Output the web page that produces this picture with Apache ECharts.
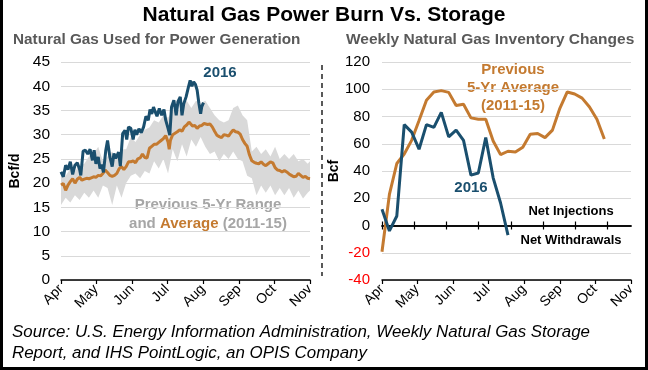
<!DOCTYPE html>
<html><head><meta charset="utf-8">
<script src="https://cdn.jsdelivr.net/npm/echarts@6/dist/echarts.min.js"></script>
<style>html,body{margin:0;padding:0;background:#fff}#c{width:648px;height:370px}</style>
</head><body><div id="c"></div>
<script>
// ---------- data ----------
const monthLabels = ['Apr','May','Jun','Jul','Aug','Sep','Oct','Nov'];
const monthStartDays = [0,30,61,91,122,153,183,214];   // days after Apr 1

// Left: power burn (Bcf/d), x = days after Apr 1
const burn2016Days = [0,2,4,6,8,10,12,14,16,17,19,21,23,25,27,28.5,30,32,33.5,35,36.5,38.5,40,42,44,45.5,47,49.5,51,53,55,56.5,58,60,62,63.5,65,67,69,71,73,75,76.5,78,79.5,81,82.5,84.5,86.5,88.5,90,92,93.5,95,97,99,100.5,102.5,104,105.5,107.5,109.5,111,112.5,114,115.5,117,118.5,120,121,122.5];
const burn2016 = [22.3,21.3,23.7,22.8,24.4,21.8,23.7,24.2,22.8,21.6,26.6,26.8,26.0,27.0,24.7,26.8,24.0,25.4,23.0,23.8,22.2,26.8,28.8,25.4,23.4,26.1,25.1,26.4,23.5,30.2,30.9,29.0,31.6,31.3,29.0,31.0,30.0,31.2,30.4,31.6,33.8,33.0,35.2,34.3,35.7,34.7,33.8,35.4,34.0,35.2,33.0,31.3,29.9,35.7,37.1,34.0,36.8,37.8,34.0,36.4,37.8,39.8,41.2,40.0,40.9,40.4,39.2,36.5,34.3,35.8,36.6];

const burnAvgDays = [0,2,4,6,8,10,12,14,16,18,20,22,24,26,28,30,32,34,36,38,40,42,44,46,48,50,52,54,56,58,60,62,64,66,68,70,72,74,76,78,80,82,84,86,88,90,92,93,94,96,98,100,102,104,106,108,110,111,113,115,117,119,121,123,126,128,130,132,134,136,138,140,142,144,146,148,150,152,154,156,158,160,162,164,166,168,170,172,174,176,178,180,182,184,186,188,190,192,194,196,198,200,202,204,206,208,210,212,214];
const burnAvg = [19.6,19.9,18.5,19.6,20.3,20.9,20.0,20.8,21.2,20.6,20.8,21.0,20.9,21.1,21.3,21.2,21.6,21.5,22.0,22.7,22.2,21.6,21.4,21.6,22.0,23.0,23.4,22.8,23.4,24.4,24.4,24.6,24.2,25.0,25.2,26.0,25.3,25.2,27.2,27.6,28.0,28.0,28.4,28.8,29.2,29.8,28.5,27.0,28.8,30.0,30.3,30.6,31.0,30.7,31.6,32.0,32.6,32.9,31.8,31.9,31.3,31.8,31.9,32.3,32.1,32.2,31.6,30.7,29.9,29.6,29.4,30.0,29.9,29.7,30.4,31.0,30.6,30.5,30.1,29.0,28.2,27.6,25.8,24.6,24.3,24.1,24.0,24.4,23.9,23.6,24.0,24.4,24.2,23.2,22.7,22.6,22.3,22.6,22.3,21.9,21.6,21.3,21.4,22.0,21.6,21.2,21.4,21.0,20.9];

const rangeDays = [0,4,8,12,16,20,24,28,32,36,40,44,48,52,56,60,64,68,72,76,80,84,88,92,96,100,104,108,112,116,120,124,128,132,136,140,144,148,152,156,160,164,168,172,176,180,184,188,192,196,200,204,208,212,214];
const rangeMax = [22.5,21.5,23.0,22.5,23.5,24.0,25.5,26.0,27.5,24.5,25.5,26.5,25.0,27.0,27.0,29.5,28.5,30.0,31.0,31.5,33.0,32.5,34.0,33.5,35.0,34.5,36.0,37.0,35.5,37.0,36.5,37.0,35.5,34.0,33.0,32.5,33.0,35.5,36.0,34.0,33.0,26.5,27.5,26.0,27.0,25.5,27.5,25.0,26.0,25.0,26.0,24.5,25.0,24.0,24.5];
const rangeMin = [15.5,17.0,16.0,17.5,16.5,18.0,17.0,18.5,17.0,19.5,19.0,15.5,19.5,17.0,20.0,21.5,22.0,21.0,22.5,22.0,24.5,23.0,25.0,22.0,27.0,24.5,28.0,25.5,29.0,27.5,29.5,27.5,26.0,26.5,24.5,26.0,25.0,26.5,25.0,24.5,21.5,21.0,17.5,19.5,18.0,19.5,17.5,19.0,17.5,19.0,17.0,18.5,16.8,18.0,18.5];

// Right: weekly storage change (Bcf), x = week number from Apr 1
const storageAvg = [-19.3,22.8,45.5,52.5,62.5,77,92,98,99,97.7,88,89,79,78,78,62,52,54.5,54,57.5,67,67.5,64.5,70,86,98,96.5,93.5,87,78,63.5];
const storage2016 = [12,-4,7,74,68.5,56,74,72,83,65,70,62.5,37,38.5,64.5,35,16.5,-7];

const leftYTicks = [0,5,10,15,20,25,30,35,40,45];
const rightYTicks = [-40,-20,0,20,40,60,80,100,120];

// ---------- styling ----------
const FONT = '"Liberation Sans", Arial, sans-serif';
const BLUE = '#1a4f6e';
const ORANGE = '#c47a30';
const BAND = '#d9d9d9';
const GRID = '#d9d9d9';
const WEEK_SPAN = 33.6;      // width of right x axis in weeks (Apr 1 .. Nov 1)
const WEEKS_PER_MONTH = 4.35;

const rightMonthPos = monthStartDays.map(d => d / 214 * WEEK_SPAN);
const zeroTickPos = monthLabels.map((m, i) => i * WEEKS_PER_MONTH);

const chart = echarts.init(document.getElementById('c'), null, {renderer: 'canvas'});

function monthAxis(gridIndex, positions, max) {
  return {
    gridIndex, type: 'value', min: 0, max: max, position: 'bottom',
    axisLine: {show: true, onZero: false, lineStyle: {color: '#000', width: 1.5}},
    axisTick: {show: true, length: 4, customValues: positions, lineStyle: {color: '#000', width: 1.2}},
    splitLine: {show: false},
    axisLabel: {
      customValues: positions, rotate: 45, margin: 7, fontSize: 14, color: '#000', fontFamily: FONT,
      formatter: function (v) {
        let best = 0;
        positions.forEach((p, i) => { if (Math.abs(p - v) < Math.abs(positions[best] - v)) best = i; });
        return monthLabels[best];
      }
    }
  };
}

const option = {
  animation: false,
  backgroundColor: '#fff',
  textStyle: {fontFamily: FONT},
  title: [
    {text: 'Natural Gas Power Burn Vs. Storage', left: 'center', top: 5, padding: 0,
     textStyle: {fontSize: 21, fontWeight: 'bold', color: '#000', fontFamily: FONT}},
    {text: 'Natural Gas Used for Power Generation', left: 13, top: 32, padding: 0,
     textStyle: {fontSize: 15.3, fontWeight: 'bold', color: '#595959', fontFamily: FONT}},
    {text: 'Weekly Natural Gas Inventory Changes', left: 346, top: 32, padding: 0,
     textStyle: {fontSize: 15.5, fontWeight: 'bold', color: '#595959', fontFamily: FONT}},
    {text: 'Source: U.S. Energy Information Administration, Weekly Natural Gas Storage\nReport, and IHS PointLogic, an OPIS Company',
     left: 12, top: 322, padding: 0,
     textStyle: {fontSize: 16.9, fontStyle: 'italic', fontWeight: 'normal', color: '#000', lineHeight: 21, fontFamily: FONT}}
  ],
  grid: [
    {left: 61, top: 62, width: 249, height: 218, outerBoundsMode: 'none', containLabel: false},
    {left: 382, top: 62, width: 249, height: 218, outerBoundsMode: 'none', containLabel: false}
  ],
  xAxis: [
    monthAxis(0, monthStartDays, 214),
    monthAxis(1, rightMonthPos, WEEK_SPAN),
    {gridIndex: 1, type: 'value', min: 0, max: WEEK_SPAN, position: 'bottom',
     axisLine: {show: true, onZero: true, onZeroAxisIndex: 1, lineStyle: {color: '#000', width: 1.5}},
     axisTick: {show: true, length: 4, customValues: zeroTickPos, lineStyle: {color: '#000', width: 1.2}},
     axisLabel: {show: false}, splitLine: {show: false}},
    {gridIndex: 1, type: 'value', min: 0, max: WEEK_SPAN, position: 'top',
     axisLine: {show: true, onZero: true, onZeroAxisIndex: 1, lineStyle: {color: '#000', width: 1.5}},
     axisTick: {show: true, length: 4, customValues: zeroTickPos, lineStyle: {color: '#000', width: 1.2}},
     axisLabel: {show: false}, splitLine: {show: false}}
  ],
  yAxis: [
    {gridIndex: 0, type: 'value', min: leftYTicks[0], max: leftYTicks[leftYTicks.length - 1], interval: 5,
     name: 'Bcf/d', nameLocation: 'middle', nameGap: 39,
     nameTextStyle: {fontSize: 14, fontWeight: 'bold', color: '#000', fontFamily: FONT},
     axisLine: {show: false}, axisTick: {show: false},
     axisLabel: {fontSize: 15.5, color: '#000', margin: 11, fontFamily: FONT},
     splitLine: {show: true, lineStyle: {color: GRID, width: 1}}},
    {gridIndex: 1, type: 'value', min: rightYTicks[0], max: rightYTicks[rightYTicks.length - 1], interval: 20,
     name: 'Bcf', nameLocation: 'middle', nameGap: 40,
     nameTextStyle: {fontSize: 14, fontWeight: 'bold', color: '#000', fontFamily: FONT},
     axisLine: {show: false}, axisTick: {show: false},
     axisLabel: {fontSize: 15, margin: 12, fontFamily: FONT,
       color: function (v) { return Number(v) < 0 ? '#ff0000' : '#000'; }},
     splitLine: {show: true, lineStyle: {color: GRID, width: 1}}}
  ],
  series: [
    {
      type: 'custom', name: 'Previous 5-Yr Range', xAxisIndex: 0, yAxisIndex: 0, silent: true, z: 1,
      data: rangeDays.map((d, i) => [d, rangeMin[i], rangeMax[i]]),
      encode: {x: 0, y: [1, 2]},
      renderItem: function (params, api) {
        if (params.dataIndex !== 0) return null;
        const top = rangeDays.map((d, i) => api.coord([d, rangeMax[i]]));
        const bot = rangeDays.map((d, i) => api.coord([d, rangeMin[i]])).reverse();
        return {type: 'polygon', shape: {points: top.concat(bot)}, style: {fill: BAND, stroke: null}};
      }
    },
    {type: 'line', name: 'Average (2011-15)', xAxisIndex: 0, yAxisIndex: 0, z: 3,
     data: burnAvgDays.map((d, i) => [d, burnAvg[i]]), showSymbol: false, symbol: 'none',
     lineStyle: {color: ORANGE, width: 3}},
    {type: 'line', name: '2016', xAxisIndex: 0, yAxisIndex: 0, z: 4,
     data: burn2016Days.map((d, i) => [d, burn2016[i]]), showSymbol: false, symbol: 'none',
     lineStyle: {color: BLUE, width: 3}},
    {type: 'line', name: 'Previous 5-Yr Average', xAxisIndex: 1, yAxisIndex: 1, z: 3,
     data: storageAvg.map((v, i) => [i, v]), showSymbol: false, symbol: 'none',
     lineStyle: {color: ORANGE, width: 3}},
    {type: 'line', name: '2016 storage', xAxisIndex: 1, yAxisIndex: 1, z: 4,
     data: storage2016.map((v, i) => [i, v]), showSymbol: false, symbol: 'none',
     lineStyle: {color: BLUE, width: 3}}
  ],
  graphic: [
    {type: 'rect', shape: {x: 0, y: 0, width: 3, height: 370}, style: {fill: '#000'}, silent: true},
    {type: 'rect', shape: {x: 645, y: 0, width: 3, height: 370}, style: {fill: '#000'}, silent: true},
    {type: 'rect', shape: {x: 0, y: 367, width: 648, height: 3}, style: {fill: '#000'}, silent: true},
    {type: 'line', shape: {x1: 322, y1: 65, x2: 322, y2: 276}, style: {stroke: '#000', lineWidth: 1.3, lineDash: [5, 4]}, silent: true},
    {type: 'text', x: 220, y: 73, style: {text: '2016', fill: BLUE, font: 'bold 15px ' + FONT, textAlign: 'center', textVerticalAlign: 'middle'}},
    {type: 'text', x: 208, y: 205, style: {text: 'Previous 5-Yr Range', fill: '#a6a6a6', font: 'bold 15px ' + FONT, textAlign: 'center', textVerticalAlign: 'middle'}},
    {type: 'text', x: 208, y: 224, style: {
      text: '{g|and }{o|Average}{g| (2011-15)}', textAlign: 'center', textVerticalAlign: 'middle',
      rich: {g: {fill: '#a6a6a6', font: 'bold 15px ' + FONT}, o: {fill: ORANGE, font: 'bold 15px ' + FONT}}}},
    {type: 'text', x: 513, y: 70, style: {text: 'Previous', fill: ORANGE, font: 'bold 15px ' + FONT, textAlign: 'center', textVerticalAlign: 'middle'}},
    {type: 'text', x: 513, y: 88, style: {text: '5-Yr Average', fill: ORANGE, font: 'bold 15px ' + FONT, textAlign: 'center', textVerticalAlign: 'middle'}},
    {type: 'text', x: 513, y: 106, style: {text: '(2011-15)', fill: ORANGE, font: 'bold 15px ' + FONT, textAlign: 'center', textVerticalAlign: 'middle'}},
    {type: 'text', x: 471, y: 188, style: {text: '2016', fill: BLUE, font: 'bold 15px ' + FONT, textAlign: 'center', textVerticalAlign: 'middle'}},
    {type: 'text', x: 571, y: 211, style: {text: 'Net Injections', fill: '#000', font: 'bold 13px ' + FONT, textAlign: 'center', textVerticalAlign: 'middle'}},
    {type: 'text', x: 571, y: 240, style: {text: 'Net Withdrawals', fill: '#000', font: 'bold 13px ' + FONT, textAlign: 'center', textVerticalAlign: 'middle'}}
  ]
};
chart.setOption(option);
</script>
</body></html>
